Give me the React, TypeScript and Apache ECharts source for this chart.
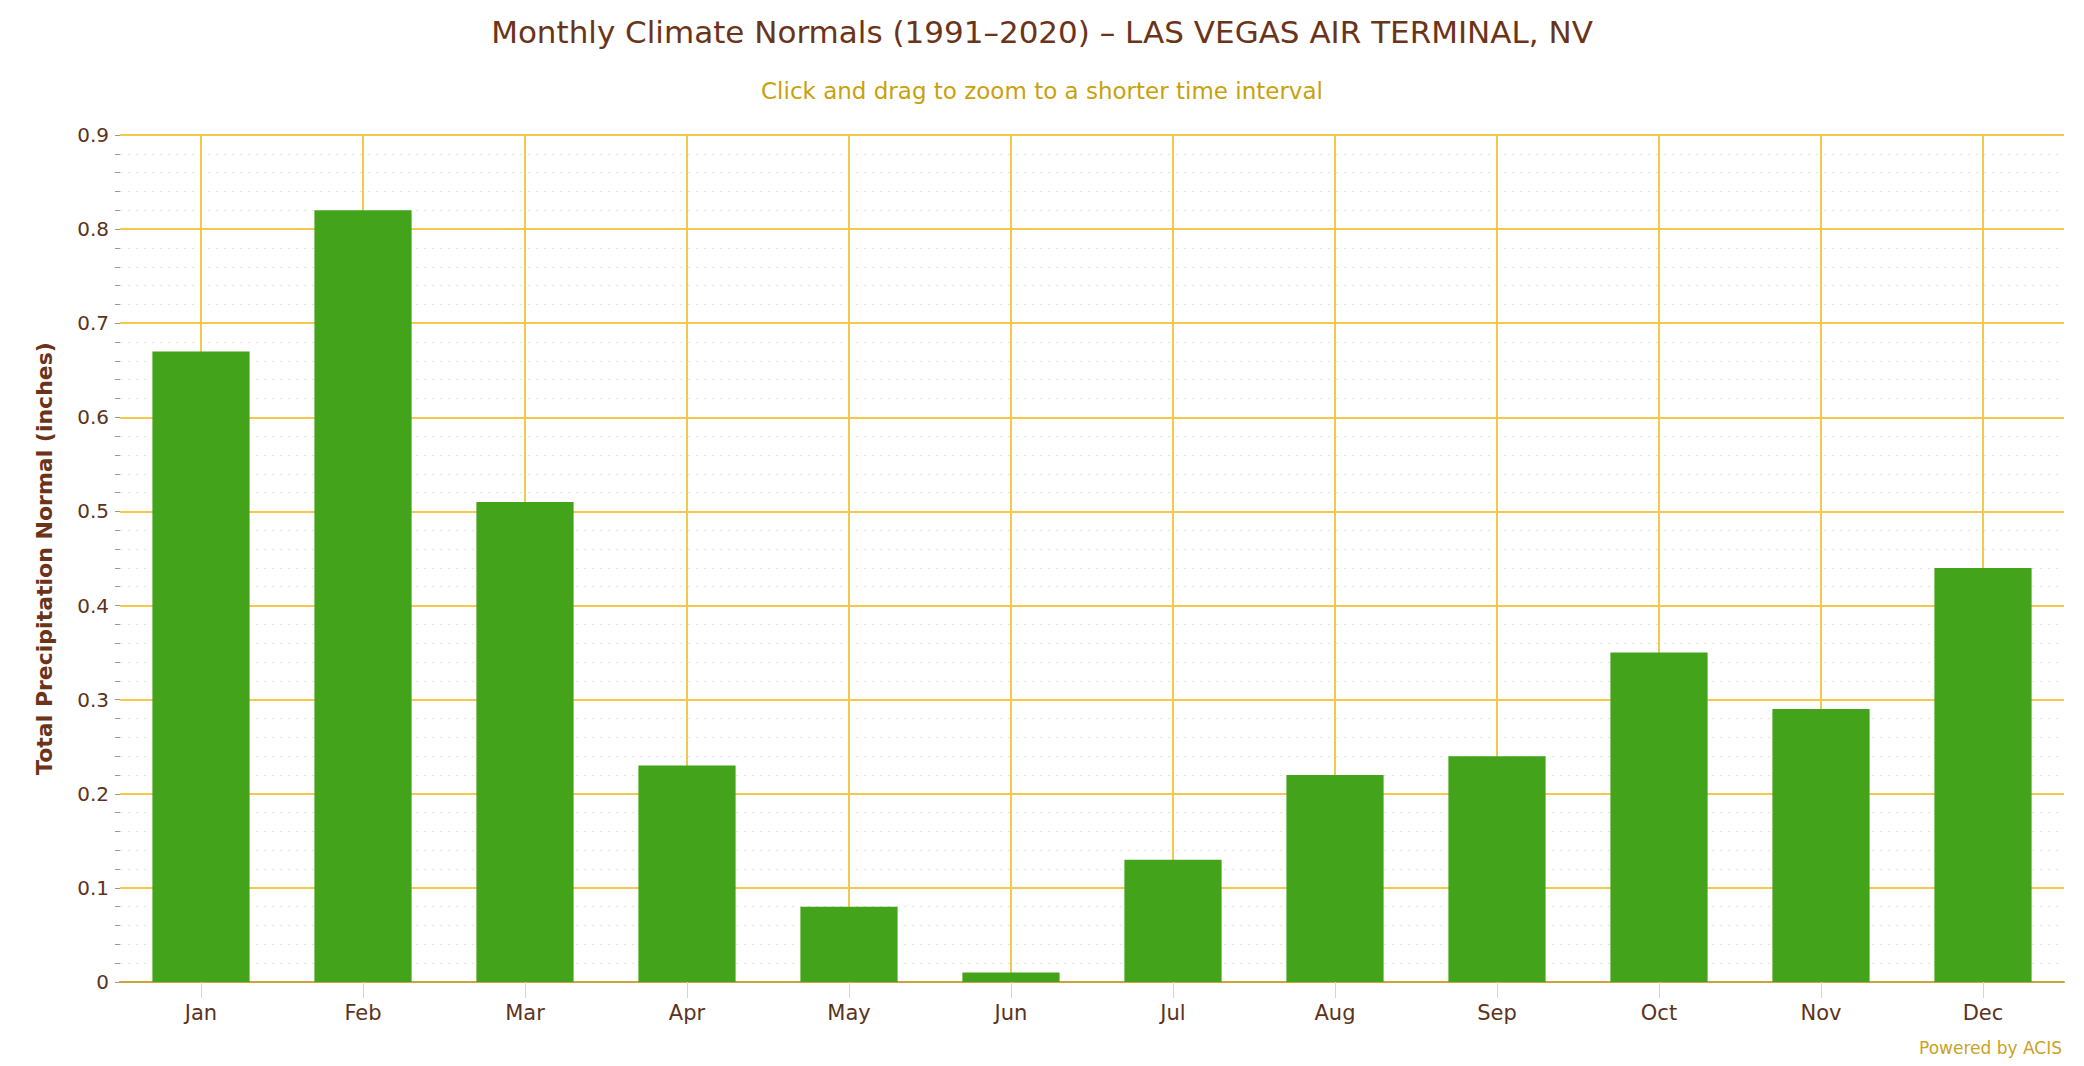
import React, { useEffect, useRef } from "react";
import * as echarts from "echarts";

const months = ["Jan", "Feb", "Mar", "Apr", "May", "Jun", "Jul", "Aug", "Sep", "Oct", "Nov", "Dec"];
const precipNormals = [0.67, 0.82, 0.51, 0.23, 0.08, 0.01, 0.13, 0.22, 0.24, 0.35, 0.29, 0.44];
const yMin = 0;
const yMax = 0.9;
const yInterval = 0.1;

const titleText = "Monthly Climate Normals (1991\u20132020) \u2013 LAS VEGAS AIR TERMINAL, NV";
const subtitleText = "Click and drag to zoom to a shorter time interval";
const yAxisTitle = "Total Precipitation Normal (inches)";
const creditText = "Powered by ACIS";

const FONT = "DejaVu Sans";

export default function App() {
  const ref = useRef<HTMLDivElement>(null);
  useEffect(() => {
    document.body.style.margin = "0";
    if (!ref.current) return;
    const chart = echarts.init(ref.current, undefined, { renderer: "svg" });
    chart.setOption({
      animation: false,
      backgroundColor: "#ffffff",
      textStyle: { fontFamily: FONT },
      title: [
        {
          text: titleText,
          left: "center",
          top: 11,
          textStyle: { color: "#6b3419", fontSize: 31, fontWeight: "normal", fontFamily: FONT },
        },
        {
          text: subtitleText,
          left: "center",
          top: 74,
          textStyle: { color: "#c9a10c", fontSize: 23, fontWeight: "normal", fontFamily: FONT },
        },
      ],
      graphic: [
        {
          type: "text",
          right: 22,
          top: 1039,
          style: { text: creditText, fill: "#c9a227", fontSize: 17, fontFamily: FONT },
        },
      ],
      grid: { left: 120, right: 20, top: 135, bottom: 84, containLabel: false },
      xAxis: {
        type: "category",
        data: months,
        boundaryGap: true,
        axisLine: { show: true, lineStyle: { color: "#c9a43a", width: 2 } },
        axisTick: { show: true, alignWithLabel: true, length: 16, lineStyle: { color: "#ccd6eb", width: 1 } },
        axisLabel: { color: "#5b3320", fontSize: 21, margin: 20, fontFamily: FONT },
        splitLine: { show: false },
      },
      yAxis: {
        type: "value",
        min: yMin,
        max: yMax,
        interval: yInterval,
        name: yAxisTitle,
        nameLocation: "middle",
        nameGap: 65,
        nameRotate: 90,
        nameTextStyle: { color: "#6b3419", fontSize: 22, fontWeight: "bold", fontFamily: FONT },
        axisLine: { show: false },
        axisTick: { show: true, length: 5, lineStyle: { color: "#999999", width: 1 } },
        minorTick: { show: true, splitNumber: 5, length: 5, lineStyle: { color: "#999999", width: 1 } },
        axisLabel: {
          color: "#5b3320",
          fontSize: 20,
          margin: 11,
          fontFamily: FONT,
          formatter: (v: number) => (v === 0 ? "0" : String(Math.round(v * 10) / 10)),
        },
        splitLine: { show: true, lineStyle: { color: "#f2c94c", width: 2 } },
        minorSplitLine: { show: true, lineStyle: { color: "#e2e2e2", width: 1, type: [2, 6] } },
      },
      series: [
        {
          type: "line",
          data: months.map(() => "-"),
          z: 1,
          silent: true,
          showSymbol: false,
          markLine: {
            z: 1,
            silent: true,
            symbol: "none",
            label: { show: false },
            lineStyle: { color: "#f2c94c", width: 2, type: "solid" },
            data: months.map((m) => ({ xAxis: m })),
          },
        },
        {
          type: "bar",
          data: precipNormals,
          z: 3,
          barWidth: "60%",
          itemStyle: { color: "#43a31a" },
        },
      ],
    });
    return () => chart.dispose();
  }, []);
  return <div ref={ref} style={{ width: 2084, height: 1066 }} />;
}
